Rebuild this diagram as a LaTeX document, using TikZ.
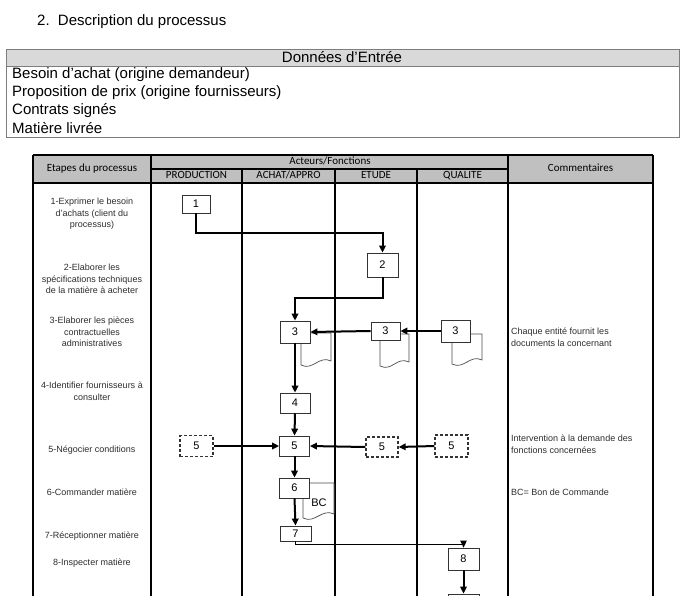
\documentclass[tikz,border=0pt]{standalone}
\usepackage{fontspec}
\setmainfont{Liberation Sans}
\newfontfamily\hdrfont{Carlito}
\usepackage{tikz}
\usetikzlibrary{arrows.meta, positioning, calc}
\definecolor{hdrgray}{RGB}{192,192,192}
\definecolor{ingray}{RGB}{217,217,217}
\definecolor{rulegray}{RGB}{125,125,125}
\definecolor{txtgray}{RGB}{45,45,45}

% document symbol: x left, y top, x right, y bottom (left end)
\newcommand{\docsheet}[4]{%
  \filldraw[docline] (#1,#2) -- (#3,#2) -- (#3,#4-4)
    .. controls (#3-12,#4-10) and (#1+12,#4+6) .. (#1,#4) -- cycle;}

\begin{document}
\begin{tikzpicture}[x=1pt, y=-1pt,
  tbl/.style={line width=1.8pt},
  hdr/.style={font=\hdrfont\fontsize{11}{12}\selectfont, text height=7.5pt, text depth=2pt},
  stepbox/.style={draw=black!80, fill=white, line width=0.8pt, inner sep=0pt,
    minimum width=30pt, minimum height=20pt, text height=7.8pt, text depth=0pt,
    font=\fontsize{11}{12}\selectfont},
  optbox/.style={stepbox, line width=1.3pt, dash pattern=on 3pt off 2pt},
  flow/.style={-{Triangle[length=7pt,width=6.5pt]}, line width=2pt},
  docline/.style={draw=black!70, fill=white, line width=0.7pt},
  steptxt/.style={align=center, text=txtgray, font=\fontsize{9}{11.5}\selectfont},
  comtxt/.style={anchor=west, align=left, inner sep=0pt, text=txtgray,
    font=\fontsize{9}{11.5}\selectfont}]

  \useasboundingbox (0,0) rectangle (690,595);

  % Title
  \node[anchor=west, inner sep=0pt, font=\fontsize{15}{17}\selectfont] (title) at (37,22)
    {2.\hspace{0.55em}Description du processus};

  % Input data table
  \fill[ingray] (6,49) rectangle (679,66);
  \draw[rulegray, line width=1pt] (6,49) rectangle (679,137);
  \draw[rulegray, line width=0.8pt] (6,66) -- (679,66);
  \node[font=\fontsize{15}{17}\selectfont] (inhead) at (342,57.5) {Données d’Entrée};
  \foreach \txt [count=\i] in {Besoin d’achat (origine demandeur),
      Proposition de prix (origine fournisseurs), Contrats signés, Matière livrée}{
    \node[anchor=west, inner sep=0pt, font=\fontsize{15}{17}\selectfont] (in\i)
      at (12,57.5+17.6*\i) {\txt};
  }

  % Process table — header
  \fill[hdrgray] (33,155) rectangle (653,183);
  \draw[tbl] (33,155) -- (653,155);
  \draw[tbl] (151,169) -- (508,169);
  \draw[tbl] (33,183) -- (653,183);
  \foreach \x in {33,151,508,653}{
    \draw[tbl] (\x,155) -- (\x,600);
  }
  \foreach \x in {242,335,417}{
    \draw[tbl] (\x,169) -- (\x,600);
  }
  \node[hdr] (hetapes) at (92,169) {Etapes du processus};
  \node[hdr] (hacteurs) at (330,162) {Acteurs/Fonctions};
  \node[hdr] (hprod) at (196.5,176) {PRODUCTION};
  \node[hdr] (hachat) at (288.5,176) {ACHAT/APPRO};
  \node[hdr] (hetude) at (376,176) {ETUDE};
  \node[hdr] (hqual) at (462.5,176) {QUALITE};
  \node[hdr] (hcomm) at (580.5,169) {Commentaires};

  % Process steps
  \node[steptxt] (s1) at (92,214) {1-Exprimer le besoin\\d’achats (client du\\processus)};
  \node[steptxt] (s2) at (92,279) {2-Elaborer les\\spécifications techniques\\de la matière à acheter};
  \node[steptxt] (s3) at (92,332) {3-Elaborer les pièces\\contractuelles\\administratives};
  \node[steptxt] (s4) at (92,391) {4-Identifier fournisseurs à\\consulter};
  \node[steptxt] (s5) at (92,450) {5-Négocier conditions};
  \node[steptxt] (s6) at (92,492) {6-Commander matière};
  \node[steptxt] (s7) at (92,536) {7-Réceptionner matière};
  \node[steptxt] (s8) at (92,563) {8-Inspecter matière};

  % Comments
  \node[comtxt] (c3) at (511,337) {Chaque entité fournit les\\documents la concernant};
  \node[comtxt] (c5) at (511,444) {Intervention à la demande des\\fonctions concernées};
  \node[comtxt] (c6) at (511,492) {BC= Bon de Commande};

  % Documents behind the boxes
  \docsheet{301}{333}{331}{365}
  \docsheet{380}{334}{409}{366}
  \docsheet{452}{334}{482}{364}
  \docsheet{303}{483}{334}{518}
  \node[font=\fontsize{11}{12}\selectfont] (bc) at (319,503) {BC};

  % Flow boxes
  \node[stepbox, minimum width=28pt, minimum height=18pt] (p1) at (196,204) {1};
  \node[stepbox, minimum width=31pt, minimum height=24pt] (e2) at (382.5,265) {2};
  \node[stepbox, minimum height=22pt] (a3) at (295,332) {3};
  \node[stepbox, minimum width=29pt, minimum height=18pt] (e3) at (385.5,331) {3};
  \node[stepbox, minimum width=29pt, minimum height=22pt] (q3) at (455.5,331) {3};
  \node[stepbox] (a4) at (295,403) {4};
  \node[optbox, minimum width=33pt, minimum height=21pt] (p5) at (196.5,446) {5};
  \node[stepbox] (a5) at (294.5,446) {5};
  \node[optbox, minimum width=32pt, minimum height=20pt] (e5) at (382,447) {5};
  \node[optbox, minimum width=33pt, minimum height=22pt] (q5) at (451.5,446) {5};
  \node[stepbox] (a6) at (294.5,488) {6};
  \node[stepbox, minimum width=31pt, minimum height=15pt] (a7) at (295.5,533.5) {7};
  \node[stepbox, minimum width=31pt, minimum height=22pt] (q8) at (463.5,559) {8};
  \node[stepbox, minimum width=31pt, minimum height=22pt] (q9) at (463.5,605) {};

  % Connectors
  \draw[flow] (p1.south) -- ++(0,20) -| (e2.north);
  \draw[flow] (e2.south) -- ++(0,21) -| (a3.north);
  \draw[flow] (q3.west) -- (e3.east);
  \draw[flow] (e3.west) -- (a3.east);
  \draw[flow] (a3.south) -- (a4.north);
  \draw[flow] (a4.south) -- (a5.north);
  \draw[flow] (p5.east) -- (a5.west);
  \draw[flow] (q5.west) -- (e5.east);
  \draw[flow] (e5.west) -- (a5.east);
  \draw[flow] (a5.south) -- (a6.north);
  \draw[flow] (a6.south) -- (a7.north);
  \draw[flow, line width=1.2pt] (a7.south) -- ++(0,3) -| (q8.north);
  \draw[flow] (q8.south) -- (q9.north);

\end{tikzpicture}
\end{document}
